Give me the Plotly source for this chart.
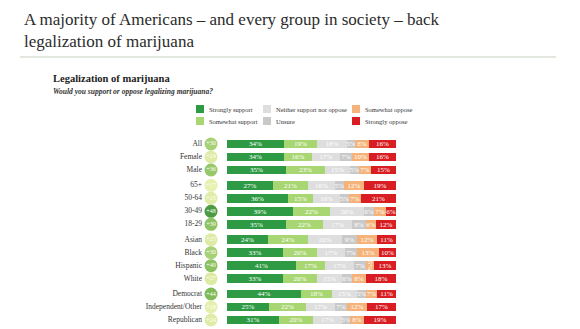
import plotly.graph_objects as go

categories = ["All", "Female", "Male", "65+", "50-64", "30-49", "18-29",
              "Asian", "Black", "Hispanic", "White",
              "Democrat", "Independent/Other", "Republican"]
groups = [0, 0, 0, 1, 1, 1, 1, 2, 2, 2, 2, 3, 3, 3]

series_names = ["Strongly support", "Somewhat support", "Neither support nor oppose",
                "Unsure", "Somewhat oppose", "Strongly oppose"]
strongly_support = [34, 34, 35, 27, 36, 39, 35, 24, 33, 41, 33, 44, 25, 31]
somewhat_support = [19, 16, 23, 21, 15, 22, 22, 24, 20, 17, 20, 18, 22, 20]
neither = [18, 17, 15, 16, 16, 20, 17, 20, 17, 17, 15, 15, 17, 17]
unsure = [5, 7, 5, 5, 5, 6, 8, 9, 7, 7, 6, 5, 7, 5]
somewhat_oppose = [8, 10, 7, 12, 7, 7, 6, 12, 13, 5, 8, 7, 12, 8]
strongly_oppose = [16, 16, 15, 19, 21, 6, 12, 11, 10, 13, 18, 11, 17, 19]
net_support = [30, 24, 36, 17, 23, 48, 39, 25, 30, 40, 27, 44, 18, 24]

series_values = [strongly_support, somewhat_support, neither, unsure,
                 somewhat_oppose, strongly_oppose]
colors = ["#2e9a44", "#a8d672", "#dedede", "#c9c9c9", "#f5b37a", "#d81e22"]

W, H = 580, 329
GAP = 0.18
ypos = [i + GAP * g for i, g in enumerate(groups)]
SERIF = "Liberation Serif"

def py(px):
    return 1 - px / H

def pxx(px):
    return px / W

fig = go.Figure()

for name, vals, col in zip(series_names, series_values, colors):
    fig.add_trace(go.Bar(
        y=ypos, x=vals, orientation="h", name=name,
        marker=dict(color=col, line=dict(width=0)),
        width=0.66,
        text=[f"{v}%" for v in vals], textposition="inside",
        insidetextanchor="middle",
        textfont=dict(color="white", size=7, family=SERIF),
        xaxis="x", yaxis="y", showlegend=False, hoverinfo="skip",
    ))

# category labels
fig.add_trace(go.Scatter(
    x=[202] * len(categories), y=ypos, mode="text", text=categories,
    textposition="middle left",
    textfont=dict(size=7.5, color="#333333", family=SERIF),
    xaxis="x2", yaxis="y", showlegend=False, hoverinfo="skip",
))

# net support circles
fig.add_trace(go.Scatter(
    x=[211] * len(categories), y=ypos, mode="markers+text",
    text=[f"+{v}" for v in net_support], textposition="middle center",
    textfont=dict(size=6, color="white", family=SERIF),
    marker=dict(size=13, color=net_support, cmin=15, cmax=48,
                colorscale=[[0, "#e8f1b2"], [0.37, "#dcea a2".replace(" ", "")],
                            [0.45, "#a6d174"], [0.88, "#80bb58"], [1, "#4a9b42"]],
                line=dict(width=0)),
    xaxis="x2", yaxis="y", showlegend=False, hoverinfo="skip",
))

annotations = [
    dict(text="A majority of Americans – and every group in society – back<br>legalization of marijuana",
         x=pxx(22), y=py(8), xref="paper", yref="paper", xanchor="left", yanchor="top",
         align="left", showarrow=False,
         font=dict(size=17, color="#2b2b2b", family=SERIF)),
    dict(text="<b>Legalization of marijuana</b>",
         x=pxx(51), y=py(79), xref="paper", yref="paper", xanchor="left", yanchor="middle",
         showarrow=False, font=dict(size=10.5, color="#222222", family=SERIF)),
    dict(text="<b><i>Would you support or oppose legalizing marijuana?</i></b>",
         x=pxx(51), y=py(91), xref="paper", yref="paper", xanchor="left", yanchor="middle",
         showarrow=False, font=dict(size=7.5, color="#333333", family=SERIF)),
]

shapes = [
    dict(type="line", xref="paper", yref="paper", x0=pxx(20), x1=pxx(556),
         y0=py(57), y1=py(57), line=dict(color="#d9dfd4", width=1.5)),
]

legend_cols = [196, 263, 352]
legend_rows = [109, 121]
for k, (name, col) in enumerate(zip(series_names, colors)):
    cx = legend_cols[k // 2]
    cy = legend_rows[k % 2]
    shapes.append(dict(type="rect", xref="paper", yref="paper",
                       x0=pxx(cx), x1=pxx(cx + 8), y0=py(cy - 4), y1=py(cy + 4),
                       fillcolor=col, line=dict(width=0)))
    annotations.append(dict(text=name, x=pxx(cx + 11), y=py(cy), xref="paper", yref="paper",
                            xanchor="left", yanchor="middle", showarrow=False,
                            font=dict(size=6.5, color="#333333", family=SERIF)))

top_val = 0 - 144 / 13.0
bottom_val = ypos[-1] + (H - 320) / 13.0

fig.update_layout(
    width=W, height=H, margin=dict(l=0, r=0, t=0, b=0),
    paper_bgcolor="white", plot_bgcolor="rgba(0,0,0,0)",
    barmode="stack", bargap=0,
    xaxis=dict(domain=[227 / W, 396 / W], range=[0, 100], visible=False, fixedrange=True),
    xaxis2=dict(domain=[0, 222 / W], range=[0, 222], visible=False, anchor="y", fixedrange=True),
    yaxis=dict(domain=[0, 1], range=[bottom_val, top_val], visible=False, fixedrange=True),
    uniformtext=dict(minsize=6, mode="show"),
    annotations=annotations, shapes=shapes,
)

fig.write_html("out.html")
